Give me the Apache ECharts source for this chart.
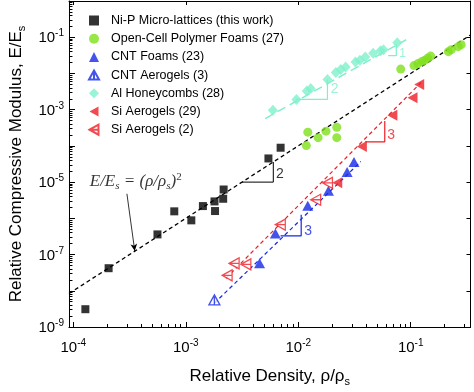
<!DOCTYPE html>
<html><head><meta charset="utf-8">
<script src="https://cdn.jsdelivr.net/npm/echarts@6/dist/echarts.min.js"></script>
<style>html,body{margin:0;padding:0;background:#fff}#c{width:474px;height:392px}</style>
</head><body><div id="c"></div>
<script>
// ---------------- data (relative density, relative modulus) ----------------
const niPDensity = [1.28e-4, 2.06e-4, 5.6e-4, 7.9e-4, 1.12e-3, 1.42e-3, 1.80e-3, 1.82e-3, 2.15e-3, 2.17e-3, 5.43e-3, 6.97e-3];
const niPModulus = [3.1e-9, 4.2e-8, 3.6e-7, 1.56e-6, 8.8e-7, 2.18e-6, 2.93e-6, 1.59e-6, 3.47e-6, 6.25e-6, 4.5e-5, 8.9e-5];

const foamDensity = [0.0118, 0.01216, 0.01502, 0.01764, 0.0220, 0.0220, 0.0815, 0.1069, 0.1158, 0.1256, 0.1334, 0.1417, 0.1505, 0.2162, 0.2296, 0.2644, 0.2808];
const foamModulus = [1.02e-4, 2.39e-4, 1.69e-4, 2.55e-4, 3.28e-4, 1.69e-4, 0.01321, 0.01648, 0.0187, 0.0212, 0.0233, 0.0265, 0.0301, 0.0399, 0.0453, 0.0548, 0.0622];

const cntFoamDensity = [4.53e-3, 6.26e-3, 0.01215, 0.01855, 0.0272, 0.0313];
const cntFoamModulus = [5.71e-8, 3.80e-7, 2.23e-6, 5.75e-6, 1.91e-5, 3.59e-5];

const cntAerogelDensity = [1.796e-3];
const cntAerogelModulus = [5.61e-9];

const alHoneyDensity = [5.95e-3, 9.64e-3, 0.01191, 0.01291, 0.01818, 0.02158, 0.02385, 0.02638, 0.03227, 0.03532, 0.03946, 0.04634, 0.0539, 0.0573, 0.0759];
const alHoneyModulus = [9.59e-4, 1.92e-3, 3.30e-3, 3.85e-3, 6.81e-3, 0.0106, 0.01282, 0.0150, 0.02056, 0.0233, 0.02825, 0.0363, 0.0426, 0.0453, 0.0706];

const siAerogelADensity = [0.02223, 0.03677, 0.06864, 0.1037, 0.1189];
const siAerogelAModulus = [9.53e-6, 9.68e-5, 7.0e-4, 2.14e-3, 4.97e-3];

const siAerogelBDensity = [2.33e-3, 2.69e-3, 3.42e-3, 6.92e-3, 0.01428, 0.01818];
const siAerogelBModulus = [2.67e-8, 5.7e-8, 5.36e-8, 6.71e-7, 3.26e-6, 9.53e-6];

// guide lines (end points, density / modulus)
const scalingLine2 = [[9.15e-5, 8.37e-9], [0.34, 0.1156]];      // E/Es = (rho/rhos)^2
const alHoneyFit = [[5.085e-3, 5.69e-4], [0.091, 0.0853]];
const cntFit = [[1.796e-3, 4.56e-9], [0.036, 3.7e-5]];
const siFit = [[2.273e-3, 2.21e-8], [0.123, 5.53e-3]];

// slope triangles
const triBlack = [[3.162e-3, 1e-5], [6.0e-3, 1e-5], [6.0e-3, 3.6e-5]];
const triBlue = [[6.96e-3, 3.28e-7], [0.01062, 3.28e-7], [0.01062, 1.26e-6]];
const triRed = [[0.0393, 1.296e-4], [0.05877, 1.296e-4], [0.05877, 4.88e-4]];
const triCyan2 = [[9.60e-3, 1.924e-3], [0.01818, 1.924e-3], [0.01818, 6.81e-3]];
const triCyan1 = [[0.0630, 0.0310], [0.0744, 0.0310], [0.0744, 0.0662]];

const slopeLabels = [
  {text: '2', at: [6.88e-3, 1.65e-5], color: '#000'},
  {text: '3', at: [0.01223, 4.53e-7], color: '#1428e6'},
  {text: '3', at: [0.0669, 1.954e-4], color: '#ee1d25'},
  {text: '2', at: [0.02102, 3.62e-3], color: '#7ff0cc'},
  {text: '1', at: [0.08447, 0.0359], color: '#7ff0cc'}
];
const equationAt = [1.40e-4, 1.015e-5];
const arrowFrom = [2.996e-4, 4.76e-6];
const arrowTo = [3.518e-4, 1.257e-7];

const xDomain = [9.15e-5, 0.34];
const yDomain = [1e-9, 1];
const xLabelExps = [-4, -3, -2, -1];
const yLabelExps = [-9, -7, -5, -3, -1];

const seriesNames = ['Ni-P Micro-lattices (this work)', 'Open-Cell Polymer Foams (27)', 'CNT Foams (23)', 'CNT Aerogels (3)', 'Al Honeycombs (28)', 'Si Aerogels (29)', 'Si Aerogels (2)'];

// ---------------- helpers ----------------
const L = Math.log10;
const pts = (xs, ys) => xs.map((x, i) => [L(x), L(ys[i])]);
const lp = arr => arr.map(p => [L(p[0]), L(p[1])]);
const FONT = '"Liberation Sans", Arial, Helvetica, sans-serif';

const xMin = L(xDomain[0]), xMax = L(xDomain[1]);
const yMin = L(yDomain[0]), yMax = L(yDomain[1]);
function majors(a, b) { const r = []; for (let n = Math.ceil(a); n <= Math.floor(b); n++) r.push(n); return r; }
function minors(a, b) { const r = []; for (let n = Math.floor(a); n <= Math.ceil(b); n++) for (let k = 2; k <= 9; k++) { const v = n + L(k); if (v > a && v < b) r.push(v); } return r; }

const expRich = {
  b: {fontSize: 15, lineHeight: 17, verticalAlign: 'bottom', fontFamily: FONT, color: '#000'},
  s: {fontSize: 10, lineHeight: 9, verticalAlign: 'top', fontFamily: FONT, color: '#000'}
};
const expFmt = v => '{b|10}{s|' + Math.round(v) + '}';

const axisLineStyle = {color: '#000', width: 1};
function baseAxis(extra) {
  return Object.assign({type: 'value', splitLine: {show: false}, axisLabel: {show: false}, axisTick: {show: false}, axisLine: {show: false, onZero: false}}, extra);
}

const titleRich = {
  t: {fontSize: 17, lineHeight: 22, verticalAlign: 'middle', fontFamily: FONT, color: '#000'},
  sub: {fontSize: 11, lineHeight: 8, verticalAlign: 'bottom', fontFamily: FONT, color: '#000'}
};

const xAxes = [
  baseAxis({min: xMin, max: xMax, position: 'bottom',
    axisLine: {show: true, onZero: false, lineStyle: axisLineStyle},
    axisTick: {show: true, inside: true, length: 5, customValues: majors(xMin, xMax), lineStyle: axisLineStyle},
    axisLabel: {show: true, customValues: xLabelExps, formatter: expFmt, rich: expRich, margin: 11},
    name: '{t|Relative Density, ρ/ρ}{sub|s}', nameLocation: 'middle', nameGap: 38,
    nameTextStyle: {rich: titleRich}}),
  baseAxis({min: xMin, max: xMax, position: 'bottom',
    axisTick: {show: true, inside: true, length: 3, customValues: minors(xMin, xMax), lineStyle: axisLineStyle}}),
  baseAxis({min: xMin, max: xMax, position: 'top',
    axisLine: {show: true, onZero: false, lineStyle: axisLineStyle},
    axisTick: {show: true, inside: true, length: 4, customValues: majors(xMin, xMax), lineStyle: axisLineStyle}})
];
const yAxes = [
  baseAxis({min: yMin, max: yMax, position: 'left',
    axisLine: {show: true, onZero: false, lineStyle: axisLineStyle},
    axisTick: {show: true, inside: true, length: 6, customValues: majors(yMin, yMax), lineStyle: axisLineStyle},
    axisLabel: {show: true, customValues: yLabelExps, formatter: expFmt, rich: expRich, margin: 5},
    name: '{t|Relative Compressive Modulus, E/E}{sub|s}', nameLocation: 'middle', nameGap: 34, nameRotate: 90,
    nameTextStyle: {rich: titleRich}}),
  baseAxis({min: yMin, max: yMax, position: 'left',
    axisTick: {show: true, inside: true, length: 3.5, customValues: minors(yMin, yMax), lineStyle: axisLineStyle}}),
  baseAxis({min: yMin, max: yMax, position: 'right',
    axisLine: {show: true, onZero: false, lineStyle: axisLineStyle},
    axisTick: {show: true, inside: true, length: 4, customValues: majors(yMin, yMax), lineStyle: axisLineStyle}})
];

const C = {black: '#000000', green: '#7fe01c', blue: '#1428e6', cyan: '#7ff0cc', red: '#ee1d25'};
const leftTri = 'path://M0,5L9,0L9,10Z';
const leftTriOpen = 'path://M0,5L9,0L9,10Z M0,5L9,5';
const upTriOpen = 'path://M5,0L10,9L0,9Z M5,0L5,9';

function guide(data, color, type, width, z) {
  return {type: 'line', data: lp(data), symbol: 'none', silent: true, z: z || 1,
    lineStyle: {color: color, width: width || 1.2, type: type || 'solid'}, animation: false};
}
function scatter(name, data, symbol, size, style, z) {
  return {type: 'scatter', name: name, data: data, symbol: symbol, symbolSize: size, itemStyle: style, z: z || 3};
}

const series = [
  guide(scalingLine2, C.black, [4, 3], 1.3),
  guide(alHoneyFit, C.cyan, [9, 5], 1.5),
  guide(cntFit, C.blue, [4, 3], 1.2),
  guide(siFit, C.red, [4, 3], 1.2),
  guide(triBlack, C.black, 'solid', 1),
  guide(triBlue, C.blue, 'solid', 1.2),
  guide(triRed, C.red, 'solid', 1.2),
  guide(triCyan2, C.cyan, 'solid', 1.2),
  guide(triCyan1, C.cyan, 'solid', 1.2),
  scatter(seriesNames[0], pts(niPDensity, niPModulus), 'rect', 8, {color: C.black}),
  scatter(seriesNames[1], pts(foamDensity, foamModulus), 'circle', 9, {color: C.green}),
  scatter(seriesNames[2], pts(cntFoamDensity, cntFoamModulus), 'triangle', [11, 10], {color: C.blue}),
  scatter(seriesNames[3], pts(cntAerogelDensity, cntAerogelModulus), upTriOpen, [11, 10], {color: '#fff', borderColor: C.blue, borderWidth: 1.3}),
  scatter(seriesNames[4], pts(alHoneyDensity, alHoneyModulus), 'diamond', [10, 11], {color: C.cyan}),
  scatter(seriesNames[5], pts(siAerogelADensity, siAerogelAModulus), leftTri, [10, 11], {color: C.red}),
  scatter(seriesNames[6], pts(siAerogelBDensity, siAerogelBModulus), leftTriOpen, [10, 11], {color: '#fff', borderColor: C.red, borderWidth: 1.3}),
  {type: 'scatter', silent: true, symbolSize: 0, z: 5,
    data: slopeLabels.map(s => ({value: [L(s.at[0]), L(s.at[1])], label: {show: true, position: 'inside', formatter: s.text, color: s.color, fontSize: s.text === '1' ? 12 : 14, fontFamily: FONT}}))},
  {type: 'scatter', silent: true, symbolSize: 0, z: 5,
    data: [{value: [L(equationAt[0]), L(equationAt[1])]}],
    label: {show: true, position: 'right', distance: 0, formatter: '{i|E/E}{sb|s}{i| = (ρ/ρ}{sb|s}{i|)}{sp|2}',
      rich: {
        i: {fontFamily: '"Liberation Serif", "Times New Roman", serif', fontStyle: 'italic', fontSize: 17, lineHeight: 20, verticalAlign: 'middle', color: '#000'},
        sb: {fontFamily: '"Liberation Serif", "Times New Roman", serif', fontStyle: 'italic', fontSize: 11, lineHeight: 6, verticalAlign: 'bottom', color: '#000'},
        sp: {fontFamily: '"Liberation Serif", "Times New Roman", serif', fontSize: 11, lineHeight: 9, verticalAlign: 'top', color: '#000'}
      }},
    markLine: {silent: true, symbol: ['none', 'arrow'], symbolSize: [5, 7],
      lineStyle: {color: '#000', width: 0.8, type: 'solid'}, label: {show: false},
      data: [[{coord: [L(arrowFrom[0]), L(arrowFrom[1])]}, {coord: [L(arrowTo[0]), L(arrowTo[1])]}]]}}
];

const chart = echarts.init(document.getElementById('c'), null, {renderer: 'canvas'});
chart.setOption({
  animation: false,
  backgroundColor: '#fff',
  grid: {left: 62, right: 3.5, top: 1, bottom: 63},
  xAxis: xAxes,
  yAxis: yAxes,
  legend: {data: seriesNames, orient: 'vertical', left: 83, top: 9, itemWidth: 10, itemHeight: 10, itemGap: 5.2,
    selectedMode: false, textStyle: {fontSize: 12.5, fontFamily: FONT, color: '#000', lineHeight: 10, padding: [0, 0, 0, 7]}},
  series: series
});
</script></body></html>
